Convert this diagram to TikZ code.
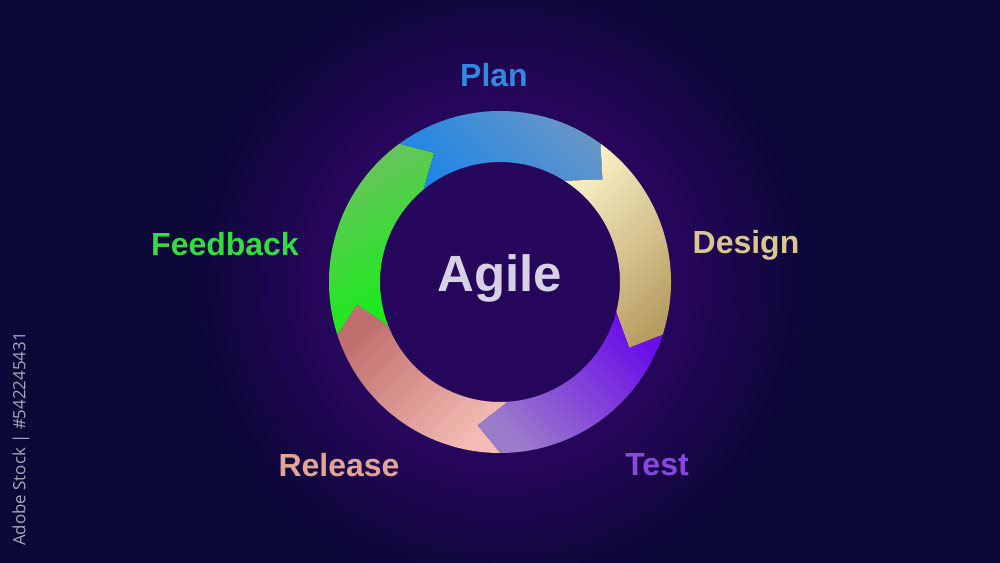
\documentclass[tikz,border=0pt]{standalone}
\usepackage{fontspec}
\setmainfont{Liberation Sans}
\newfontfamily\wmfont{Open Sans}
\definecolor{bg}{HTML}{0B0737}
\definecolor{glow}{HTML}{26065A}
\definecolor{blueA}{HTML}{1F86E6}
\definecolor{blueB}{HTML}{6A96C6}
\definecolor{yelA}{HTML}{F8EEC4}
\definecolor{yelB}{HTML}{B69C60}
\definecolor{purA}{HTML}{6A0EE8}
\definecolor{purB}{HTML}{9C7CCA}
\definecolor{pinkA}{HTML}{C06E6E}
\definecolor{pinkB}{HTML}{F4BCB4}
\definecolor{grnA}{HTML}{70C062}
\definecolor{grnB}{HTML}{10F014}
\definecolor{planC}{HTML}{3389E0}
\definecolor{fbC}{HTML}{34DC40}
\definecolor{desC}{HTML}{D9C690}
\definecolor{relC}{HTML}{E2A595}
\definecolor{testC}{HTML}{8A48E0}
\definecolor{agC}{HTML}{D8D0E4}
\definecolor{wmC}{HTML}{A8A8BC}
\pgfdeclareradialshading{glowsh}{\pgfpoint{0bp}{0bp}}{color(0bp)=(glow); color(15bp)=(glow); color(25bp)=(bg); color(50bp)=(bg)}
\newcommand\ringseg[3]{%
  \path[#3] (#1+9:171) arc[start angle=#1+9, end angle=#2+9, radius=171]
    -- (#2:145) -- (#2+12.5:120)
    arc[start angle=#2+12.5, end angle=#1+12.5, radius=120]
    -- (#1:145) -- cycle;}
\begin{document}
\begin{tikzpicture}[x=0.02cm,y=0.02cm,
  lbl/.style={font=\fontsize{18.2}{21}\selectfont\bfseries, inner sep=0pt}]
\useasboundingbox (0,0) rectangle (1000,563);
\clip (0,0) rectangle (1000,563);
\fill[bg] (0,0) rectangle (1000,563);
\shade[shading=glowsh] (500,281) circle (310);
\begin{scope}[shift={(500,281)}]
  \ringseg{189}{117}{shade, top color=grnA, bottom color=grnB, shading angle=30}
  \ringseg{117}{45}{shade, top color=blueB, bottom color=blueA, shading angle=-45}
  \ringseg{45}{-27}{shade, top color=yelA, bottom color=yelB, shading angle=45}
  \ringseg{-27}{-99}{shade, top color=purA, bottom color=purB, shading angle=-45}
  \ringseg{-99}{-171}{shade, top color=pinkA, bottom color=pinkB, shading angle=45}
\end{scope}
\node[lbl, text=planC] (plan) at (494,488) {Plan};
\node[lbl, text=desC] (design) at (746,318) {Design};
\node[lbl, text=testC] (test) at (657,98) {Test};
\node[lbl, text=relC] (release) at (339,98) {Release};
\node[lbl, text=fbC] (feedback) at (225,319) {Feedback};
\node[font=\fontsize{29}{33}\selectfont\bfseries, text=agC, inner sep=0pt] (agile) at (500,285) {Agile};
\node[rotate=90, font=\wmfont\fontsize{9.6}{11}\selectfont, text=wmC, inner sep=0pt] (stockid) at (21,124) {Adobe Stock | \#542245431};
\end{tikzpicture}
\end{document}
